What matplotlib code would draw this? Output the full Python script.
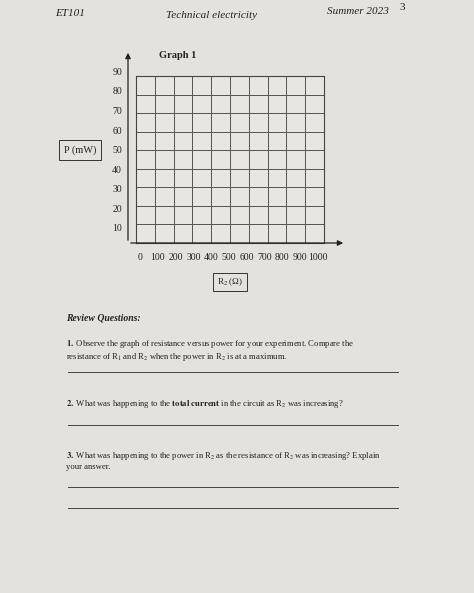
import matplotlib
matplotlib.use("Agg")
import matplotlib.pyplot as plt

x_ticks = [0, 100, 200, 300, 400, 500, 600, 700, 800, 900, 1000]
y_ticks = [10, 20, 30, 40, 50, 60, 70, 80, 90]
x_label = "R$_2$ (Ω)"
y_label = "P (mW)"
title = "Graph 1"
questions = [
    ("$\\bf{1.}$ Observe the graph of resistance versus power for your experiment. Compare the\nresistance of R$_1$ and R$_2$ when the power in R$_2$ is at a maximum.", 338),
    ("$\\bf{2.}$ What was happening to the $\\bf{total\\ current}$ in the circuit as R$_2$ was increasing?", 398),
    ("$\\bf{3.}$ What was happening to the power in R$_2$ as the resistance of R$_2$ was increasing? Explain\nyour answer.", 450),
]
answer_lines = [372, 425, 487, 508]

plt.rcParams['font.family'] = ['Liberation Serif', 'DejaVu Serif']
plt.rcParams['mathtext.fontset'] = 'stix'
W, H = 474, 593
fig = plt.figure(figsize=(W/100, H/100), dpi=100)
fig.patch.set_facecolor('#e4e2dc')

def fx(px): return px / W
def fy(py): return 1 - py / H

ax = fig.add_axes([fx(136), fy(243), fx(324) - fx(136), fy(76) - fy(243)])
ax.set_facecolor('#e8e6e0')
ax.set_xlim(0, 1000)
ax.set_ylim(0, 90)
for v in range(100, 1000, 100):
    ax.axvline(v, color='#555', lw=0.7)
for v in range(10, 90, 10):
    ax.axhline(v, color='#555', lw=0.7)
for s in ax.spines.values():
    s.set_color('#444'); s.set_linewidth(0.8)
ax.set_xticks([]); ax.set_yticks([])

fig.add_artist(matplotlib.patches.FancyArrowPatch((fx(128), fy(243)), (fx(346), fy(243)), arrowstyle='-|>', mutation_scale=8, color='#222', lw=0.9, transform=fig.transFigure))
fig.add_artist(matplotlib.patches.FancyArrowPatch((fx(128), fy(243)), (fx(128), fy(50)), arrowstyle='-|>', mutation_scale=8, color='#222', lw=0.9, transform=fig.transFigure))

for i, t in enumerate(x_ticks):
    fig.text(fx(140 + i * 17.8), fy(258), str(t), fontsize=7, ha='center', va='center', color='#222')
for t in y_ticks:
    fig.text(fx(122), fy(248 - t * 1.95), str(t), fontsize=7, ha='right', va='center', color='#222')

fig.text(fx(178), fy(56), title, fontsize=7.5, fontweight='bold', ha='center', va='center', color='#222')
fig.text(fx(80), fy(150), y_label, fontsize=7.5, ha='center', va='center', color='#222',
         bbox=dict(boxstyle='square,pad=0.5', fc='none', ec='#333', lw=0.7))
fig.text(fx(230), fy(282), x_label, fontsize=6.5, ha='center', va='center', color='#222',
         bbox=dict(boxstyle='square,pad=0.4', fc='none', ec='#333', lw=0.7))

fig.text(fx(55), fy(13), "ET101", fontsize=8, style='italic', ha='left', va='center', color='#222')
fig.text(fx(212), fy(15), "Technical electricity", fontsize=8, style='italic', ha='center', va='center', color='#222')
fig.text(fx(358), fy(12), "Summer 2023", fontsize=8, style='italic', ha='center', va='center', color='#222')
fig.text(fx(402), fy(7), "3", fontsize=8, ha='center', va='center', color='#222')

fig.text(fx(66), fy(318), "Review Questions:", fontsize=7, style='italic', fontweight='bold', ha='left', va='center', color='#222')
for q, y in questions:
    fig.text(fx(66), fy(y), q, fontsize=6.2, ha='left', va='top', color='#222', linespacing=1.1)
for y in answer_lines:
    fig.add_artist(matplotlib.lines.Line2D([fx(68), fx(398)], [fy(y), fy(y)], color='#444', lw=0.7))

fig.savefig("out.png", dpi=100, facecolor=fig.get_facecolor())
